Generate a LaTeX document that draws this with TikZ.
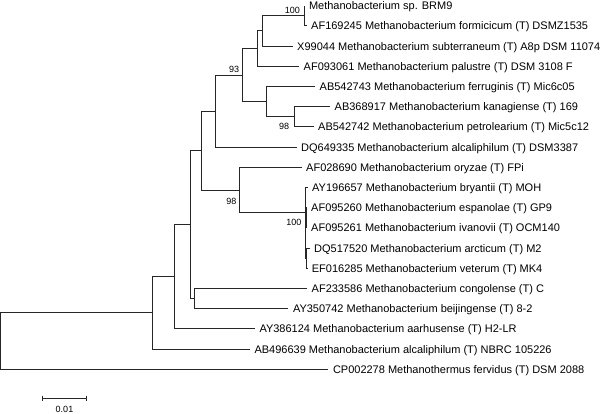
\documentclass[tikz,border=0pt]{standalone}
\usepackage{fontspec}
\setmainfont{Liberation Sans}
\begin{document}
\begin{tikzpicture}[x=1pt,y=-1pt,
  br/.style={draw=black!85, line width=0.9pt},
  leaf/.style={anchor=base west, inner sep=0pt, xshift=4.5pt, yshift=-3.95pt, font=\fontsize{11}{13}\selectfont},
  boot/.style={anchor=base east, inner sep=0pt, font=\fontsize{9}{11}\selectfont}]
\useasboundingbox (0,0) rectangle (600,414);
\fill[white] (0,0) rectangle (600,414);
% internal nodes
\coordinate (root) at (0.5,341.1);
\coordinate (M) at (152.3,312.9);
\coordinate (L) at (174,276.75);
\coordinate (J) at (190.5,224.6);
\coordinate (K) at (194,298.6);
\coordinate (A) at (201,150.6);
\coordinate (B) at (215.7,111.1);
\coordinate (C) at (242.7,75.1);
\coordinate (D) at (257.7,48.6);
\coordinate (E) at (262.7,30.95);
\coordinate (F) at (304.3,15.8);
\coordinate (G) at (266.7,101.65);
\coordinate (H) at (294,116.8);
\coordinate (I) at (239.5,190.0);
\coordinate (P) at (305,212.75);
\coordinate (R) at (305.8,238);
\coordinate (S) at (306.3,217.8);
\coordinate (T) at (306.8,258.2);
% leaf ends
\coordinate (l1) at (304.3,5.7);
\coordinate (l2) at (306.5,25.9);
\coordinate (l3) at (292.5,46.1);
\coordinate (l4) at (299,66.3);
\coordinate (l5) at (315,86.5);
\coordinate (l6) at (330,106.7);
\coordinate (l7) at (313.5,126.9);
\coordinate (l8) at (296.5,147.1);
\coordinate (l9) at (301.5,167.3);
\coordinate (l10) at (307.5,187.5);
\coordinate (l11) at (306.5,207.7);
\coordinate (l12) at (306.5,227.9);
\coordinate (l13) at (309.5,248.1);
\coordinate (l14) at (307.2,268.3);
\coordinate (l15) at (307,288.5);
\coordinate (l16) at (288.3,308.7);
\coordinate (l17) at (254.8,328.9);
\coordinate (l18) at (249.8,349.1);
\coordinate (l19) at (328.3,369.3);
% branches
\draw[br] (root) |- (M);  \draw[br] (root) |- (l19);
\draw[br] (M) |- (L);     \draw[br] (M) |- (l18);
\draw[br] (L) |- (J);     \draw[br] (L) |- (l17);
\draw[br] (J) |- (A);     \draw[br] (J) |- (K);
\draw[br] (K) |- (l15);   \draw[br] (K) |- (l16);
\draw[br] (A) |- (B);     \draw[br] (A) |- (I);
\draw[br] (B) |- (C);     \draw[br] (B) |- (l8);
\draw[br] (C) |- (D);     \draw[br] (C) |- (G);
\draw[br] (D) |- (E);     \draw[br] (D) |- (l4);
\draw[br] (E) |- (F);     \draw[br] (E) |- (l3);
\draw[br] (F) |- (l1);    \draw[br] (F) |- (l2);
\draw[br] (G) |- (l5);    \draw[br] (G) |- (H);
\draw[br] (H) |- (l6);    \draw[br] (H) |- (l7);
\draw[br] (I) |- (l9);    \draw[br] (I) |- (P);
\draw[br] (P) |- (l10);   \draw[br] (P) |- (R);
\draw[br] (R) |- (S);     \draw[br] (R) |- (T);
\draw[br] (S) |- (l11);   \draw[br] (S) |- (l12);
\draw[br] (T) |- (l13);   \draw[br] (T) |- (l14);
% leaf labels
\node[leaf] (t1) at (l1) {Methanobacterium sp. BRM9};
\node[leaf] (t2) at (l2) {AF169245 Methanobacterium formicicum (T) DSMZ1535};
\node[leaf] (t3) at (l3) {X99044 Methanobacterium subterraneum (T) A8p DSM 11074};
\node[leaf] (t4) at (l4) {AF093061 Methanobacterium palustre (T) DSM 3108 F};
\node[leaf] (t5) at (l5) {AB542743 Methanobacterium ferruginis (T) Mic6c05};
\node[leaf] (t6) at (l6) {AB368917 Methanobacterium kanagiense (T) 169};
\node[leaf] (t7) at (l7) {AB542742 Methanobacterium petrolearium (T) Mic5c12};
\node[leaf] (t8) at (l8) {DQ649335 Methanobacterium alcaliphilum (T) DSM3387};
\node[leaf] (t9) at (l9) {AF028690 Methanobacterium oryzae (T) FPi};
\node[leaf] (t10) at (l10) {AY196657 Methanobacterium bryantii (T) MOH};
\node[leaf] (t11) at (l11) {AF095260 Methanobacterium espanolae (T) GP9};
\node[leaf] (t12) at (l12) {AF095261 Methanobacterium ivanovii (T) OCM140};
\node[leaf] (t13) at (l13) {DQ517520 Methanobacterium arcticum (T) M2};
\node[leaf] (t14) at (l14) {EF016285 Methanobacterium veterum (T) MK4};
\node[leaf] (t15) at (l15) {AF233586 Methanobacterium congolense (T) C};
\node[leaf] (t16) at (l16) {AY350742 Methanobacterium beijingense (T) 8-2};
\node[leaf] (t17) at (l17) {AY386124 Methanobacterium aarhusense (T) H2-LR};
\node[leaf] (t18) at (l18) {AB496639 Methanobacterium alcaliphilum (T) NBRC 105226};
\node[leaf] (t19) at (l19) {CP002278 Methanothermus fervidus (T) DSM 2088};
% bootstrap values
\node[boot] (bF) at (300,13.2) {100};
\node[boot] (bC) at (239.3,72.7) {93};
\node[boot] (bH) at (289.3,129.9) {98};
\node[boot] (bI) at (236.7,204.4) {98};
\node[boot] (bP) at (301.7,225.5) {100};
% scale bar
\coordinate (sb1) at (42.7,398.3);
\coordinate (sb2) at (86.3,398.3);
\draw[br] (sb1) -- (sb2);
\draw[br] ([yshift=2.75pt]sb1) -- ([yshift=-2.75pt]sb1);
\draw[br] ([yshift=2.75pt]sb2) -- ([yshift=-2.75pt]sb2);
\node[boot, anchor=base] (sbl) at (64.5,412.5) {0.01};
\end{tikzpicture}
\end{document}
